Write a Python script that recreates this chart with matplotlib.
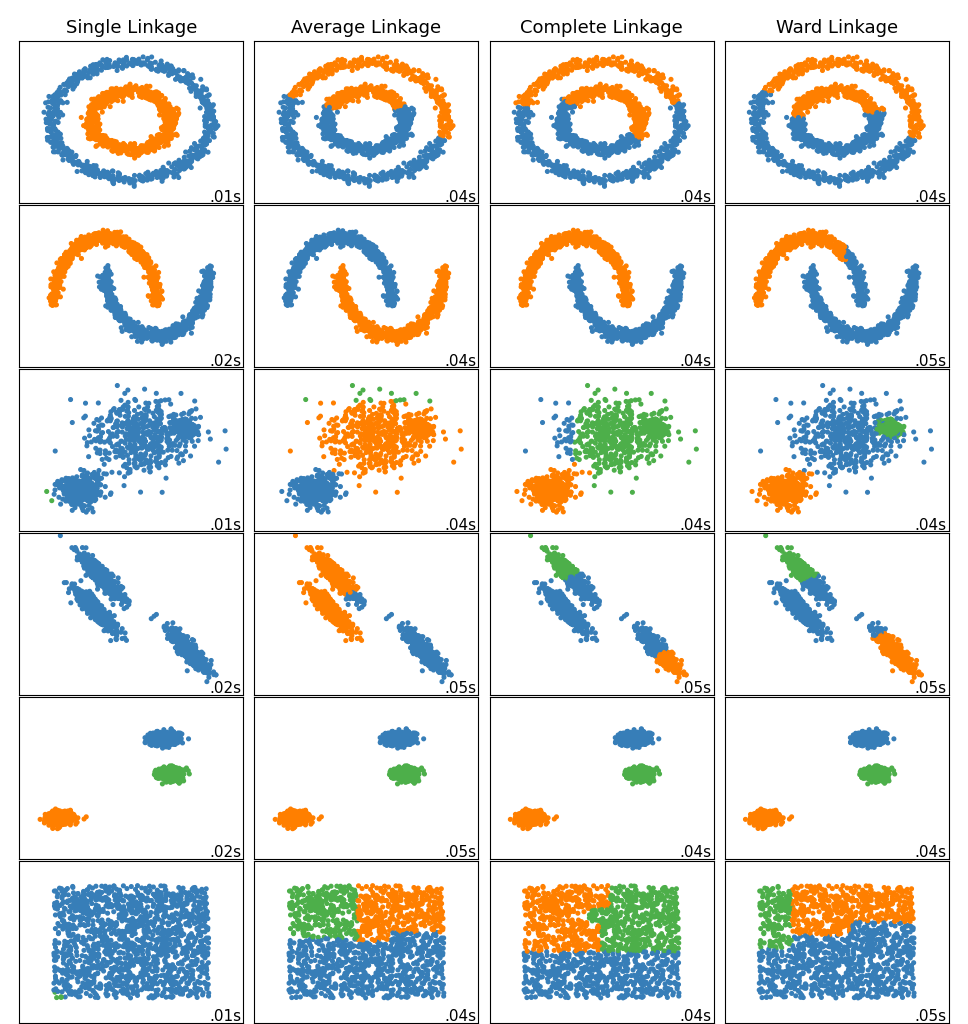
import numpy as np
import matplotlib
matplotlib.use("Agg")
import matplotlib.pyplot as plt

titles = ["Single Linkage", "Average Linkage", "Complete Linkage", "Ward Linkage"]
times = [[".01s", ".04s", ".04s", ".04s"],
         [".02s", ".04s", ".04s", ".05s"],
         [".01s", ".04s", ".04s", ".04s"],
         [".02s", ".05s", ".05s", ".05s"],
         [".02s", ".05s", ".04s", ".04s"],
         [".01s", ".04s", ".04s", ".05s"]]
colors = ["#377eb8", "#ff7f00", "#4daf4a"]
n = 1500
rng = np.random.default_rng(0)

def std(X):
    return (X - X.mean(0)) / X.std(0)

# circles
t = rng.uniform(0, 2*np.pi, n)
inner = np.arange(n) % 2 == 1
r = np.where(inner, 0.5, 1.0)
circ = std(np.c_[r*np.cos(t), r*np.sin(t)] + rng.normal(0, .05, (n, 2)))
ang = np.degrees(np.arctan2(circ[:, 1], circ[:, 0]))
def arc(a0, a1):
    return (ang > a0) & (ang < a1)
circ_labels = [
    inner.astype(int),
    np.where(inner, arc(30, 150), arc(-15, 155)).astype(int),
    np.where(inner, arc(-30, 140), arc(20, 165)).astype(int),
    np.where(inner, arc(20, 170), arc(-15, 150)).astype(int)]

# moons
up = np.arange(n) % 2 == 0
tt = rng.uniform(0, np.pi, n)
mx = np.where(up, np.cos(tt), 1 - np.cos(tt))
my = np.where(up, np.sin(tt), 0.5 - np.sin(tt))
moons = std(np.c_[mx, my] + rng.normal(0, .05, (n, 2)))
moon_labels = [up.astype(int), (~up).astype(int), up.astype(int),
               (up & (moons[:, 0] < 0.2)).astype(int)]

# varied
k = np.arange(n) % 3
cen = np.array([[-1.14, -1.23], [0.2, 0.46], [1.2, 0.67]])
sd = np.array([0.22, 0.6, 0.1])
varied = cen[k] + rng.normal(0, 1, (n, 2)) * sd[k][:, None]
vx, vy = varied[:, 0], varied[:, 1]
v_single = np.zeros(n, int); v_single[np.argsort(vx)[:2]] = 2
v_avg = np.where(k == 0, 0, 1); v_avg[(k == 1) & (vy > 1.5)] = 2
v_comp = np.where(k == 0, 1, 2)
v_comp[(k == 1) & (vx < -0.6)] = 0
v_comp[(k == 1) & (vx < -0.2) & (vy < -0.4)] = 1
v_ward = np.array([1, 0, 2])[k]
var_labels = [v_single, v_avg, v_comp, v_ward]

# anisotropic
acen = np.array([[-0.63, 1.07], [-0.8, 0.1], [1.27, -1.13]])
d = np.array([1.0, -1.5]); d /= np.linalg.norm(d)
p = np.array([-d[1], d[0]])
ta = rng.normal(0, 0.42, n); pa = rng.normal(0, 0.09, n)
aniso = acen[k] + ta[:, None]*d + pa[:, None]*p
a_avg = np.where(k == 2, 0, 1); a_avg[(k == 0) & (ta > 0.5)] = 0
a_comp = np.zeros(n, int); a_comp[(k == 0) & (ta < -0.1)] = 2
a_comp[(k == 2) & (ta > 0.1)] = 1
a_ward = np.zeros(n, int); a_ward[(k == 0) & (ta < 0.0)] = 2
a_ward[(k == 2) & (ta > -0.6)] = 1
aniso_labels = [np.zeros(n, int), a_avg, a_comp, a_ward]

# blobs
bcen = np.array([[0.76, 1.2], [-1.58, -1.23], [0.87, 0.12]])
blobs = bcen[k] + rng.normal(0, 1, (n, 2)) * np.array([0.15, 0.1])
blob_labels = [k] * 4

# no structure
ns = rng.uniform(-1.73, 1.73, (n, 2))
x, y = ns[:, 0], ns[:, 1]
n_single = np.zeros(n, int); n_single[np.argsort(x + y)[:4]] = 2
n_avg = np.zeros(n, int)
n_avg[(y > 0.1 + 0.3*(x > 0)) & (x < -0.2)] = 2
n_avg[(y > 0.0 + 0.3*(x > 0.5)) & (x >= -0.2)] = 1
n_comp = np.zeros(n, int)
n_comp[(y > -0.3) & (x < -0.3 + 0.3*(y < 0.5))] = 1
n_comp[(y > -0.3) & (x >= -0.3 + 0.3*(y < 0.5))] = 2
n_comp[(y > 1.0) & (x < 0.2)] = 1
n_ward = np.zeros(n, int)
n_ward[(x < -1.0) & (y > -0.2)] = 2
n_ward[(x >= -1.0) & (y > 0.2 + 0.4*(x > 0.3))] = 1
ns_labels = [n_single, n_avg, n_comp, n_ward]

datasets = [circ, moons, varied, aniso, blobs, ns]
labels = [circ_labels, moon_labels, var_labels, aniso_labels, blob_labels, ns_labels]

fig = plt.figure(figsize=(9.68, 10.24), dpi=100)
plt.subplots_adjust(left=0.02, right=0.98, bottom=0.001, top=0.96, wspace=0.05, hspace=0.01)
cols = np.array(colors)
for i, X in enumerate(datasets):
    for j in range(4):
        ax = fig.add_subplot(6, 4, i*4 + j + 1)
        if i == 0:
            ax.set_title(titles[j], size=13)
        ax.scatter(X[:, 0], X[:, 1], s=7, color=cols[labels[i][j]])
        ax.set_xlim(-2.5, 2.5); ax.set_ylim(-2.5, 2.5)
        ax.set_xticks([]); ax.set_yticks([])
        ax.text(0.99, 0.01, times[i][j], transform=ax.transAxes, size=11, ha="right")
fig.savefig("out.png", dpi=100)
